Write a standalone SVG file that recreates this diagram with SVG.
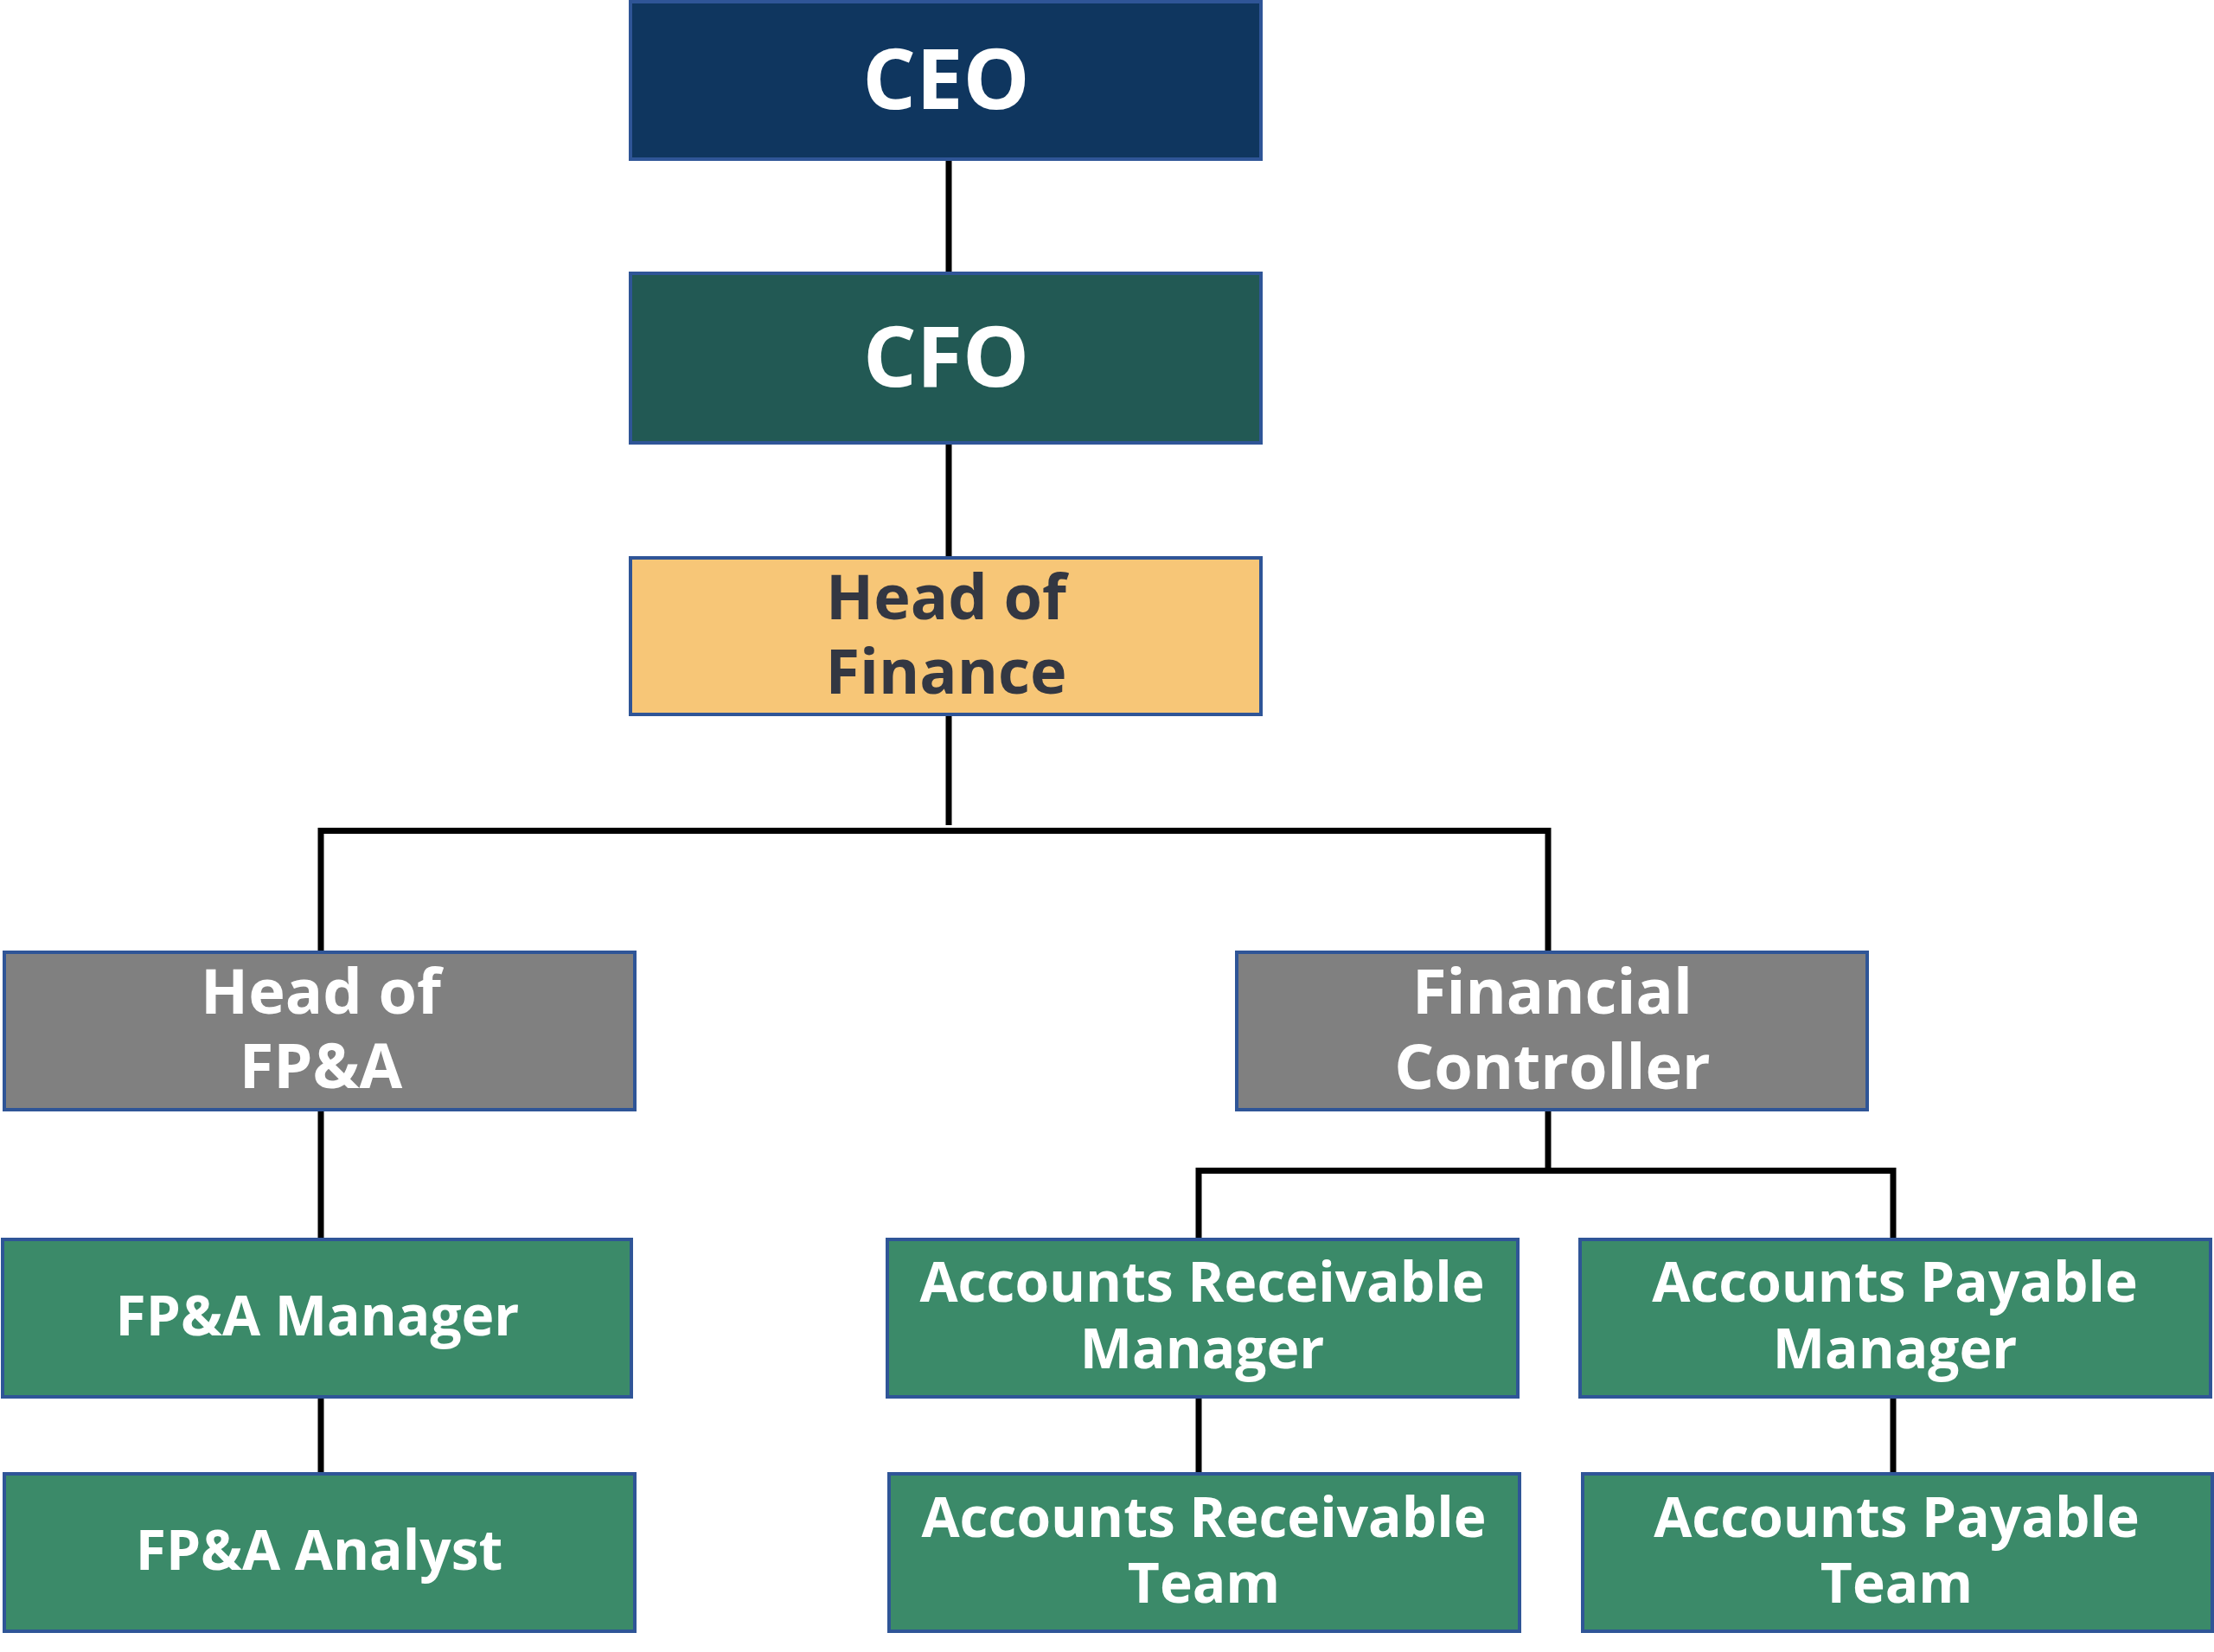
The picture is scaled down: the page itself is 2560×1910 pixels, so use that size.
<svg xmlns="http://www.w3.org/2000/svg" width="2560" height="1910" viewBox="0 0 2560 1910">
<style>
.box{stroke:#2F5597;stroke-width:4}
.ceo{fill:#0F365F}
.cfo{fill:#225954}
.hof{fill:#F7C677}
.gray{fill:#808080}
.green{fill:#3B8A69}
text{font-family:"Open Sans","Noto Sans","Liberation Sans",sans-serif;font-weight:700;text-anchor:middle}
.w{fill:#FFFFFF}
.d{fill:#333742}
.conn{stroke:#000000;stroke-width:7;fill:none;stroke-linecap:butt;stroke-linejoin:miter}
</style>
<rect width="2560" height="1910" fill="#FFFFFF"/>
<g id="connectors">
<line class="conn" x1="1097" y1="184" x2="1097" y2="316"/>
<line class="conn" x1="1097" y1="512" x2="1097" y2="645"/>
<line class="conn" x1="1097" y1="826" x2="1097" y2="954"/>
<polyline class="conn" points="371,1101 371,960.5 1790,960.5 1790,1100"/>
<line class="conn" x1="371" y1="1283" x2="371" y2="1433"/>
<line class="conn" x1="371" y1="1615" x2="371" y2="1704"/>
<line class="conn" x1="1790" y1="1283" x2="1790" y2="1353"/>
<polyline class="conn" points="1386,1433 1386,1353.5 2189,1353.5 2189,1433"/>
<line class="conn" x1="1386" y1="1615" x2="1386" y2="1704"/>
<line class="conn" x1="2189" y1="1615" x2="2189" y2="1704"/>
</g>
<g id="ceo">
<rect class="box ceo" x="729" y="2" width="729" height="182"/>
<text class="w" x="1094" y="126" font-size="97">CEO</text>
</g>
<g id="cfo">
<rect class="box cfo" x="729" y="316" width="729" height="196"/>
<text class="w" x="1094" y="447" font-size="97">CFO</text>
</g>
<g id="head-of-finance">
<rect class="box hof" x="729" y="645" width="729" height="181"/>
<text class="d" x="1094" y="716" font-size="72"><tspan x="1094" y="716">Head of</tspan><tspan x="1094" y="802">Finance</tspan></text>
</g>
<g id="head-of-fpa">
<rect class="box gray" x="5" y="1101" width="729" height="182"/>
<text class="w" x="371" y="1172" font-size="72"><tspan x="371" y="1172">Head of</tspan><tspan x="371" y="1258">FP&amp;A</tspan></text>
</g>
<g id="financial-controller">
<rect class="box gray" x="1430" y="1101" width="729" height="182"/>
<text class="w" x="1795" y="1172" font-size="72"><tspan x="1795" y="1172">Financial</tspan><tspan x="1795" y="1259">Controller</tspan></text>
</g>
<g id="fpa-manager">
<rect class="box green" x="3" y="1433" width="727" height="182"/>
<text class="w" x="367" y="1544" font-size="64">FP&amp;A Manager</text>
</g>
<g id="fpa-analyst">
<rect class="box green" x="5" y="1704" width="729" height="182"/>
<text class="w" x="369" y="1815" font-size="64">FP&amp;A Analyst</text>
</g>
<g id="ar-manager">
<rect class="box green" x="1026" y="1433" width="729" height="182"/>
<text class="w" x="1390" y="1505" font-size="64"><tspan x="1390" y="1505">Accounts Receivable</tspan><tspan x="1390" y="1582">Manager</tspan></text>
</g>
<g id="ap-manager">
<rect class="box green" x="1827" y="1433" width="729" height="182"/>
<text class="w" x="2191" y="1505" font-size="64"><tspan x="2191" y="1505">Accounts Payable</tspan><tspan x="2191" y="1582">Manager</tspan></text>
</g>
<g id="ar-team">
<rect class="box green" x="1028" y="1704" width="729" height="182"/>
<text class="w" x="1392" y="1777" font-size="64"><tspan x="1392" y="1777">Accounts Receivable</tspan><tspan x="1392" y="1853">Team</tspan></text>
</g>
<g id="ap-team">
<rect class="box green" x="1830" y="1704" width="728" height="182"/>
<text class="w" x="2193" y="1777" font-size="64"><tspan x="2193" y="1777">Accounts Payable</tspan><tspan x="2193" y="1853">Team</tspan></text>
</g>
</svg>
